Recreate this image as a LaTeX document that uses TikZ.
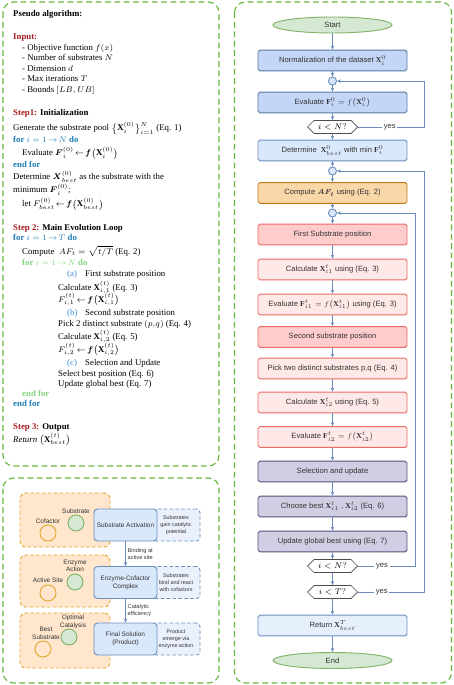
\documentclass[tikz,border=0pt]{standalone}
\usepackage{amsmath}
\usepackage{fontspec}
\setmainfont{Liberation Serif}
\newfontfamily\flowsans{Liberation Sans}
\usepackage{tikz}
\usetikzlibrary{shapes.geometric, shapes.symbols, arrows.meta}

\definecolor{panelgreen}{HTML}{66B83C}
\definecolor{keyred}{HTML}{A5191E}
\definecolor{keyblue}{HTML}{1E7DB4}
\definecolor{keygreen}{HTML}{86D67E}
\definecolor{subblue}{HTML}{3A8EDB}
\definecolor{linkblue}{HTML}{6C8EBF}
\definecolor{normfill}{HTML}{C3D6F6}
\definecolor{detfill}{HTML}{DAE8FC}
\definecolor{retfill}{HTML}{E6EFFC}
\definecolor{compfill}{HTML}{FAD7A8}
\definecolor{compline}{HTML}{C07B1E}
\definecolor{redfill}{HTML}{FFCCCC}
\definecolor{pinkfill}{HTML}{FFE8E8}
\definecolor{redline}{HTML}{EA6B66}
\definecolor{purplefill}{HTML}{D0CEE2}
\definecolor{purpleline}{HTML}{56517E}
\definecolor{termfill}{HTML}{D5E8D4}
\definecolor{termline}{HTML}{82B366}
\definecolor{zonefill}{HTML}{FFE6CC}
\definecolor{zoneline}{HTML}{E0A82E}
\definecolor{notefill}{HTML}{EAF1FC}
\definecolor{inktext}{HTML}{333333}

\newcommand{\stepkw}[1]{\textcolor{keyred}{\textbf{#1}}}

\begin{document}
\begin{tikzpicture}[x=0.03cm, y=-0.03cm,
  >={Stealth[length=3.5pt, width=3pt]},
  panel/.style={draw=panelgreen, line width=1pt, dash pattern=on 5pt off 3pt, rounded corners=9pt},
  code/.style={anchor=base west, inner sep=0pt, font=\fontsize{7.5}{9}\selectfont},
  flow/.style={rectangle, rounded corners=1.5pt, minimum width=4.47cm, minimum height=0.62cm, line width=0.8pt, inner sep=1pt, text=inktext, font=\flowsans\fontsize{6.5}{8}\selectfont},
  bluebox/.style={flow, fill=normfill, draw=linkblue!85!black},
  lightbox/.style={flow, fill=detfill, draw=linkblue},
  retbox/.style={flow, fill=retfill, draw=linkblue},
  orangebox/.style={flow, fill=compfill, draw=compline},
  redbox/.style={flow, fill=redfill, draw=redline},
  pinkbox/.style={flow, fill=pinkfill, draw=redline},
  purplebox/.style={flow, fill=purplefill, draw=purpleline},
  term/.style={ellipse, fill=termfill, draw=termline, line width=0.8pt, minimum width=3.57cm, minimum height=0.48cm, inner sep=0pt, text=inktext, font=\flowsans\fontsize{6.5}{8}\selectfont},
  joint/.style={circle, fill=detfill, draw=linkblue, line width=0.8pt, minimum size=0.24cm, inner sep=0pt},
  ask/.style={signal, signal to=east and west, draw=black!70, fill=white, line width=0.6pt, minimum width=1.5cm, minimum height=0.39cm, inner sep=1pt, font=\fontsize{7}{8}\selectfont},
  link/.style={->, draw=linkblue, line width=0.8pt},
  yes/.style={fill=white, inner sep=1.5pt, text=inktext, font=\flowsans\fontsize{6.5}{8}\selectfont},
  zone/.style={draw=zoneline, fill=zonefill, dash pattern=on 3pt off 2pt, line width=0.8pt, rounded corners=5pt, minimum width=2.7cm},
  stage/.style={rectangle, rounded corners=3pt, fill=detfill, draw=linkblue, line width=0.8pt, minimum width=1.89cm, minimum height=0.96cm, align=center, inner sep=1pt, text=inktext, font=\flowsans\fontsize{5.5}{6.6}\selectfont},
  note/.style={rectangle, rounded corners=3pt, fill=notefill, draw=linkblue, dash pattern=on 3pt off 2pt, line width=0.7pt, minimum width=1.44cm, minimum height=0.96cm, align=center, inner sep=1pt, text=inktext, font=\flowsans\fontsize{4.6}{5.8}\selectfont},
  ring/.style={circle, draw=zoneline, line width=0.8pt, minimum size=0.48cm, inner sep=0pt},
  ball/.style={circle, fill=termfill, draw=termline, line width=0.8pt, minimum size=0.48cm, inner sep=0pt},
  tag/.style={align=center, inner sep=0pt, text=inktext, font=\flowsans\fontsize{5.5}{6.4}\selectfont},
  hint/.style={align=left, inner sep=1.5pt, text=inktext, font=\flowsans\fontsize{4.8}{6}\selectfont}]

\useasboundingbox (0,0) rectangle (453,685);

% panels
\draw[panel] (3,2) rectangle (219,466);
\draw[panel] (3,478) rectangle (219,683);
\draw[panel] (234.5,2) rectangle (451.5,683);

% pseudo algorithm
\node[code] (pTitle) at (13,17) {\bfseries Pseudo algorithm:};
\node[code] (pIn) at (13,40) {\stepkw{Input:}};
\node[code] (pObj) at (22,51) {- Objective function $f(x)$};
\node[code] (pNum) at (22,61) {- Number of substrates $N$};
\node[code] (pDim) at (22,72) {- Dimension $d$};
\node[code] (pMax) at (22,82) {- Max iterations $T$};
\node[code] (pBnd) at (22,93) {- Bounds $[LB, UB]$};

\node[code] (pStepA) at (13,116) {\stepkw{Step1:} \textbf{Initialization}};
\node[code] (pGen) at (13,131) {Generate the substrate pool $\big\{\mathbf{X}_i^{(0)}\big\}_{i=1}^{N}$ (Eq. 1)};
\node[code] (pForA) at (13,143) {\textcolor{keyblue}{\textbf{for} $i = 1\!\to\! N$ \textbf{do}}};
\node[code] (pEvA) at (22,156) {Evaluate $\boldsymbol{F}_i^{(0)}\!\leftarrow\!\boldsymbol{f}\big(\mathbf{X}_i^{(0)}\big)$};
\node[code] (pEndA) at (13,168) {\textcolor{keyblue}{\textbf{end for}}};
\node[code] (pDetA) at (13,180) {Determine $\boldsymbol{X}_{best}^{(0)}$ as the substrate with the};
\node[code] (pDetB) at (13,193) {minimum $\boldsymbol{F}_i^{(0)}$;};
\node[code] (pLet) at (22,207) {let $F_{best}^{(0)}\!\leftarrow\!\boldsymbol{f}\big(\mathbf{X}_{best}^{(0)}\big)$};

\node[code] (pStepB) at (13,231) {\stepkw{Step 2:} \textbf{Main Evolution Loop}};
\node[code] (pForB) at (13,241) {\textcolor{keyblue}{\textbf{for} $i = 1\!\to\! T$ \textbf{do}}};
\node[code] (pComp) at (22,254) {Compute\ \ $AF_t=\sqrt{t/T}$ (Eq. 2)};
\node[code] (pForC) at (22,265) {\textcolor{keygreen}{\textbf{for} $i = 1\!\to\! N$ \textbf{do}}};
\node[code] (pSubA) at (67,276) {\makebox[0.54cm][l]{\textcolor{subblue}{(a)}}First substrate position};
\node[code] (pCalA) at (58,290) {Calculate $\mathbf{X}_{i,1}^{(t)}$ (Eq. 3)};
\node[code] (pFitA) at (58,302) {$F_{i,1}^{(t)}\!\leftarrow\!\boldsymbol{f}\big(\mathbf{X}_{i,1}^{(t)}\big)$};
\node[code] (pSubB) at (67,315) {\makebox[0.54cm][l]{\textcolor{subblue}{(b)}}Second substrate position};
\node[code] (pPick) at (58,326) {Pick 2 distinct substrate $(p{,}q)$ (Eq. 4)};
\node[code] (pCalB) at (58,339) {Calculate $\mathbf{X}_{i,2}^{(t)}$ (Eq. 5)};
\node[code] (pFitB) at (58,352) {$F_{i,2}^{(t)}\!\leftarrow\!\boldsymbol{f}\big(\mathbf{X}_{i,2}^{(t)}\big)$};
\node[code] (pSubC) at (67,365) {\makebox[0.54cm][l]{\textcolor{subblue}{(c)}}Selection and Update};
\node[code] (pSel) at (58,376) {Select best position (Eq. 6)};
\node[code] (pUpd) at (58,386) {Update global best (Eq. 7)};
\node[code] (pEndB) at (22,396) {\textcolor{keygreen}{\textbf{end for}}};
\node[code] (pEndC) at (13,406) {\textcolor{keyblue}{\textbf{end for}}};

\node[code] (pStepC) at (13,429) {\stepkw{Step 3:} \textbf{Output}};
\node[code] (pRet) at (13,442) {\textit{Return} $\big(\mathbf{X}_{best}^{(t)}\big)$};

% flowchart
\node[term] (start) at (332.5,25) {Start};
\node[bluebox] (norm) at (332.5,60.5) {Normalization of the dataset $\mathbf{X}_i^0$};
\node[joint] (jA) at (332.5,81) {};
\node[bluebox] (eval) at (332.5,102.5) {Evaluate $\mathbf{F}_i^0 = f\big(\mathbf{X}_i^0\big)$};
\node[ask] (askN) at (332.5,127) {$i<N?$};
\node[lightbox] (det) at (332.5,150.5) {Determine\ \ $\mathbf{X}_{best}^0$ with min $\mathbf{F}_i^0$};
\node[joint] (jB) at (332.5,171) {};
\node[orangebox] (comp) at (332.5,193) {Compute $\boldsymbol{AF_t}$ using (Eq. 2)};
\node[joint] (jC) at (332.5,213) {};
\node[redbox] (first) at (332.5,234.5) {First Substrate position};
\node[pinkbox] (calcA) at (332.5,269.5) {Calculate $\mathbf{X}_{i1}^t$ using (Eq. 3)};
\node[pinkbox] (evalA) at (332.5,304.5) {Evaluate $\mathbf{F}_{i1}^t = f\big(\mathbf{X}_{i1}^t\big)$ using (Eq. 3)};
\node[redbox] (second) at (332.5,337) {Second substrate position};
\node[pinkbox] (pick) at (332.5,368.5) {Pick two distinct substrates p,q (Eq. 4)};
\node[pinkbox] (calcB) at (332.5,402.5) {Calculate $\mathbf{X}_{i2}^t$ using (Eq. 5)};
\node[pinkbox] (evalB) at (332.5,437) {Evaluate $\mathbf{F}_{i2}^t = f\big(\mathbf{X}_{i2}^t\big)$};
\node[purplebox] (select) at (332.5,471.5) {Selection and update};
\node[purplebox] (choose) at (332.5,506.5) {Choose best $\mathbf{X}_{i1}^t$ , $\mathbf{X}_{i2}^t$ (Eq. 6)};
\node[purplebox] (update) at (332.5,541.5) {Update global best using (Eq. 7)};
\node[ask] (askNb) at (332.5,566) {$i<N?$};
\node[ask] (askT) at (332.5,592) {$i<T?$};
\node[retbox] (ret) at (332.5,625.5) {Return $\mathbf{X}_{best}^T$};
\node[term] (stop) at (332.5,660.5) {End};

\draw[link] (start) -- (norm);
\draw[link] (norm) -- (jA);
\draw[link] (jA) -- (eval);
\draw[link] (eval) -- (askN);
\draw[link] (askN) -- (det);
\draw[link] (det) -- (jB);
\draw[link] (jB) -- (comp);
\draw[link] (comp) -- (jC);
\draw[link] (jC) -- (first);
\draw[link] (first) -- (calcA);
\draw[link] (calcA) -- (evalA);
\draw[link] (evalA) -- (second);
\draw[link] (second) -- (pick);
\draw[link] (pick) -- (calcB);
\draw[link] (calcB) -- (evalB);
\draw[link] (evalB) -- (select);
\draw[link] (select) -- (choose);
\draw[link] (choose) -- (update);
\draw[link] (update) -- (askNb);
\draw[link] (askNb) -- (askT);
\draw[link] (askT) -- (ret);
\draw[link] (ret) -- (stop);

% loops back
\coordinate (railIn) at (415,0);
\coordinate (railOut) at (424,0);
\draw[link] (askN.east) -- (askN.east -| railOut) node[yes, pos=0.48] {yes} |- (jA.east);
\draw[link] (askNb.east) -- (askNb.east -| railIn) node[yes, pos=0.42] {yes} |- (jC.east);
\draw[link] (askT.east) -- (askT.east -| railOut) node[yes, pos=0.36] {yes} |- (jB.east);

% enzyme scheme
\node[zone, minimum height=1.62cm] (zoneA) at (65,520) {};
\node[zone, minimum height=1.56cm] (zoneB) at (65,581) {};
\node[zone, minimum height=1.65cm] (zoneC) at (65,640.5) {};

\node[note] (actvNote) at (176,525) {Substrates\\gain catalytic\\potential};
\node[note] (cplxNote) at (176,582.5) {Substrates\\bind and react\\with cofactors};
\node[note] (prodNote) at (176,639) {Product\\emerge via\\enzyme action};
\node[stage] (actv) at (125.5,525) {Substrate Activation};
\node[stage] (cplx) at (125.5,582.5) {Enzyme-Cofactor\\Complex};
\node[stage] (prod) at (125.5,639) {Final Solution\\(Product)};

\draw[link] (actv) -- (cplx) node[hint, midway, right] {Binding at\\active site};
\draw[link] (cplx) -- (prod) node[hint, midway, right] {Catalytic\\efficiency};

\node[ring] (cofA) at (48,533) {};
\node[tag] (cofTag) at (48,521) {Cofactor};
\node[ball] (subA) at (76,523) {};
\node[tag] (subTag) at (76,511) {Substrate};

\node[ring] (siteB) at (48,593) {};
\node[tag] (siteTag) at (48,580) {Active Site};
\node[ball] (enzB) at (75,582) {};
\node[tag] (enzTag) at (75,566) {Enzyme\\Action};

\node[ring] (bestC) at (43,649) {};
\node[tag] (bestTag) at (46,633.5) {Best\\Substrate};
\node[ball] (optC) at (69,637) {};
\node[tag] (optTag) at (73,622) {Optimal\\Catalysis};

\end{tikzpicture}
\end{document}
